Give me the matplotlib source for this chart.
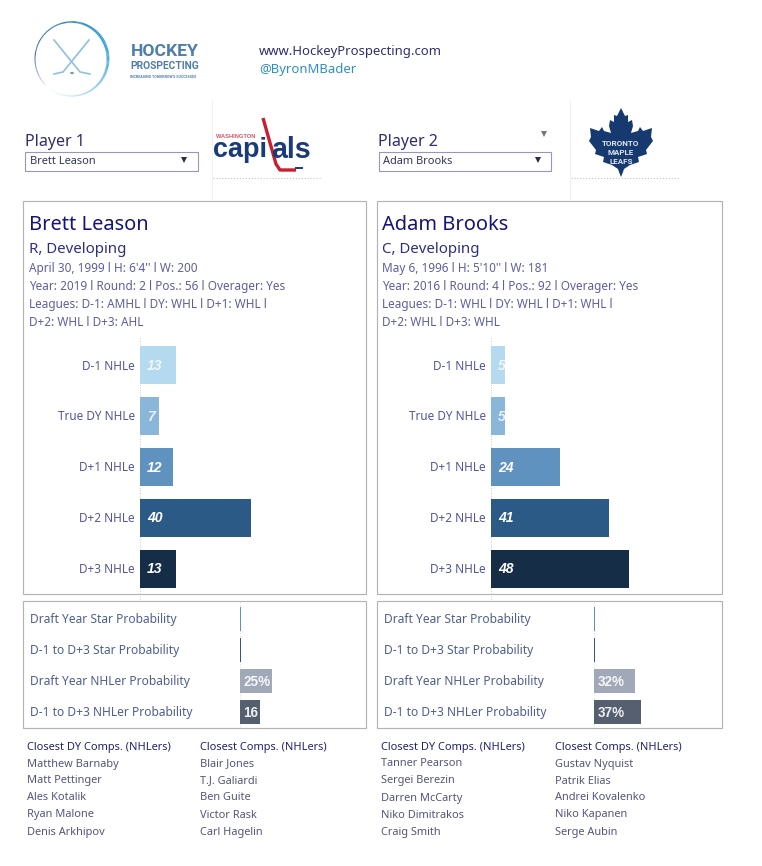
# Player comparison dashboard
import numpy as np
import matplotlib
matplotlib.use('Agg')
import matplotlib.pyplot as plt
from matplotlib.patches import Rectangle, Polygon, Ellipse
from matplotlib.collections import LineCollection

plt.rcParams['font.family'] = ['Noto Sans', 'DejaVu Sans']

W, H = 762, 866

# Data
nhle_labels = ['D-1 NHLe', 'True DY NHLe', 'D+1 NHLe', 'D+2 NHLe', 'D+3 NHLe']
nhle_p1 = [13, 7, 12, 40, 13]
nhle_p2 = [5, 5, 24, 41, 48]

prob_labels = ['Draft Year Star Probability', 'D-1 to D+3 Star Probability',
               'Draft Year NHLer Probability', 'D-1 to D+3 NHLer Probability']
prob_p1 = [0.6, 0.6, 25, 16]
prob_p2 = [0.6, 0.6, 32, 37]
prob_text_p1 = ['', '', '25%', '16']
prob_text_p2 = ['', '', '32%', '37%']

info_p1 = ['R, Developing', "April 30, 1999 l H: 6'4'' l W: 200",
           'Year: 2019 l Round: 2 l Pos.: 56 l Overager: Yes',
           'Leagues: D-1: AMHL l DY: WHL l D+1: WHL l', 'D+2: WHL l D+3: AHL']
info_p2 = ['C, Developing', "May 6, 1996 l H: 5'10'' l W: 181",
           'Year: 2016 l Round: 4 l Pos.: 92 l Overager: Yes',
           'Leagues: D-1: WHL l DY: WHL l D+1: WHL l', 'D+2: WHL l D+3: WHL']

comps_dy_p1 = ['Matthew Barnaby', 'Matt Pettinger', 'Ales Kotalik', 'Ryan Malone', 'Denis Arkhipov']
comps_p1 = ['Blair Jones', 'T.J. Galiardi', 'Ben Guite', 'Victor Rask', 'Carl Hagelin']
comps_dy_p2 = ['Tanner Pearson', 'Sergei Berezin', 'Darren McCarty', 'Niko Dimitrakos', 'Craig Smith']
comps_p2 = ['Gustav Nyquist', 'Patrik Elias', 'Andrei Kovalenko', 'Niko Kapanen', 'Serge Aubin']

nhle_colors = ['#b5d9ee', '#8ab6da', '#5f92bf', '#2b5a87', '#152d47']
prob_colors = ['#5f92bf', '#2b5a87', '#a1a9b8', '#555f70']


def px(size):
    # font size given in pixels
    return size * 0.72


fig = plt.figure(figsize=(W / 100, H / 100), dpi=100, facecolor='white')

# overlay in pixel coordinates for the text and the boxes
bg = fig.add_axes([0, 0, 1, 1])
bg.set_xlim(0, W)
bg.set_ylim(H, 0)
bg.axis('off')


def label(x, y, s, size, color, **kw):
    # Noto Sans sits a little high with va center
    return bg.text(x, y + 1.5, s, fontsize=px(size), color=color, va='center', **kw)


def sub_axes(x0, y0, x1, y1):
    ax = fig.add_axes([x0 / W, 1 - y1 / H, (x1 - x0) / W, (y1 - y0) / H])
    ax.patch.set_alpha(0)
    ax.axis('off')
    return ax


def draw_player(name, info, nhle, probs, prob_text, dy, cl, left, right, text_x, base,
                pb, scale, comp_x1, comp_x2):
    bg.add_patch(Rectangle((left, 201), right - left, 393, fc='none', ec='#b3b3b3', lw=0.85))
    bg.add_patch(Rectangle((left, 601), right - left, 127, fc='none', ec='#b3b3b3', lw=0.85))

    label(text_x, 223, name, 20, '#14147a')
    label(text_x, 248, info[0], 15, '#2e2e80')
    for line, y in zip(info[1:], [267, 285, 303, 321]):
        label(text_x, y, line, 11.8, '#5f5f9e')

    # NHLe bars
    ax = sub_axes(base, 340, base + 200, 594)
    ax.barh(range(5), nhle, height=0.75, color=nhle_colors)
    ax.set_xlim(0, 200 / scale)
    ax.set_ylim(4.5, -0.5)
    for i, v in enumerate(nhle):
        ax.annotate(str(v), (0, i), xytext=(5, -0.5), textcoords='offset points', color='white',
                    va='center', fontsize=px(14), fontweight='bold', fontstyle='italic',
                    family='Liberation Sans', alpha=0.8 if i < 2 else 1)
        label(base - 5, 364.5 + i * 50.8, nhle_labels[i], 11.8, '#55589a', ha='right')
    bg.plot([base, base], [338, 600], color='#c8c8c8', lw=0.7, ls=':')

    # probability bars
    bg.plot([pb, pb], [602, 728], color='#dddddd', lw=0.7, ls=':')
    ax = sub_axes(pb, 603, pb + 125, 728)
    ax.barh(range(4), probs, height=0.77, color=prob_colors)
    ax.set_xlim(0, 125 / 1.28)
    ax.set_ylim(3.5, -0.5)
    for i, t in enumerate(prob_text):
        ax.annotate(t, (0, i), xytext=(2.5, -0.5), textcoords='offset points', color='white',
                    va='center', fontsize=px(13.5), fontweight='bold', family='Liberation Sans',
                    alpha=0.9)
        label(text_x + 1.5, 617.6 + i * 31.25, prob_labels[i], 12, '#4f5f8f')

    # comps lists
    label(comp_x1, 746, 'Closest DY Comps. (NHLers)', 11, '#22226e')
    label(comp_x2, 746, 'Closest Comps. (NHLers)', 11, '#22226e')
    ys = [762.5, 779.5, 796.5, 813.5, 830.5]
    for a, b, y in zip(dy, cl, ys):
        label(comp_x1, y, a, 11, '#55557a')
        label(comp_x2, y, b, 11, '#55557a')


draw_player('Brett Leason', info_p1, nhle_p1, prob_p1, prob_text_p1, comps_dy_p1, comps_p1,
            23, 365.5, 29, 140, 240, 2.78, 27, 200)
draw_player('Adam Brooks', info_p2, nhle_p2, prob_p2, prob_text_p2, comps_dy_p2, comps_p2,
            377, 721.5, 382, 491, 594, 2.87, 381, 555)

# dropdowns
for name, player, x0 in [('Player 1', 'Brett Leason', 25), ('Player 2', 'Adam Brooks', 378.5)]:
    label(x0, 140, name, 16, '#2e2e6e')
    bg.add_patch(Rectangle((x0, 152), 172.5, 19, fc='white', ec='#9a95bb', lw=0.8))
    label(x0 + 4.5, 160.5, player, 11, '#33335a')
    bg.plot([x0 + 159], [160], marker='v', ms=3.8, color='#2a2a4a', mew=0)
bg.plot([544], [134], marker='v', ms=3.8, color='#777777', mew=0)

# separators around the team logos
for x0, x1 in [(213, 322), (571, 679)]:
    bg.plot([x0, x1], [178, 178], color='#c4c4c4', lw=0.8, ls=':')
    bg.plot([x0 - 1, x0 - 1], [100, 199], color='#f1f1f1', lw=0.8)

# site header
label(259, 49.5, 'www.HockeyProspecting.com', 13.1, '#2e2e6e')
label(259, 68.5, '@ByronMBader', 13.1, '#2f8fc4')

# hockey prospecting logo: ring fading round the circle
t = np.linspace(np.radians(-225), np.radians(125), 200)
rx = 71.5 + 36.5 * np.cos(t)
ry = 59 + 37 * np.sin(t)
segs = [[(rx[i], ry[i]), (rx[i + 1], ry[i + 1])] for i in range(199)]
ring_colors = []
ring_widths = []
for i in range(199):
    f = i / 198
    if f < 0.55:
        c = np.array([0.20, 0.27, 0.55]) * (1 - f / 0.55) + np.array([0.11, 0.60, 0.84]) * f / 0.55
        a = min(1.0, 0.12 + f * 6)
    else:
        c = np.array([0.11, 0.60, 0.84])
        a = max(0.06, 1.0 - (f - 0.55) * 2.2)
    ring_colors.append((c[0], c[1], c[2], a))
    ring_widths.append(0.7 + 1.4 * np.exp(-((f - 0.6) / 0.2) ** 2))
bg.add_collection(LineCollection(segs, colors=ring_colors, linewidths=ring_widths))
bg.plot([54, 80, 90], [40, 72, 74], color='#8fc0dc', lw=1.2)
bg.plot([89, 63, 54], [40, 72, 74], color='#8fc0dc', lw=1.2)
bg.add_patch(Ellipse((72, 73), 4, 2.2, fc='#6f9dbe', ec='none'))

bg.text(130.5, 51, 'HOCKEY', fontsize=px(17.5), color='#4f7eaa', va='center', fontweight='bold',
        family='Roboto')
bg.text(130.5, 66, 'PROSPECTING', fontsize=px(10.3), color='#4f7eaa', va='center', fontweight='bold',
        family='Roboto')
bg.text(130.5, 77.5, "INCREASING TOMORROW'S SUCCESSES", fontsize=px(3.6), color='#4f7eaa', va='center',
        fontweight='bold', family='Roboto')

# capitals logo
bg.text(213, 150, 'capi', fontsize=px(27), color='#1b3a7a', va='center', fontweight='bold',
        family='Liberation Sans')
bg.text(271, 150, 'als', fontsize=px(28.5), color='#1b3a7a', va='center', fontweight='bold',
        family='Liberation Sans')
bg.text(216, 136, 'WASHINGTON', fontsize=px(5.8), color='#cf5a6a', va='center', fontweight='bold',
        family='Liberation Sans')
bg.plot([263, 276, 280, 296], [118, 164, 170, 170], color='#c8202f', lw=2.4, solid_capstyle='butt')
bg.plot([296, 302], [168, 168], color='#1b3a7a', lw=1.4)

# leafs logo
half = [(0, 108), (4, 116), (7, 115), (7, 122), (11, 120), (12, 126), (10, 133), (17, 131), (19, 127),
        (22, 131), (31, 128), (30, 137), (32, 141), (25, 150), (26, 154), (17, 157), (18, 162),
        (9, 165), (3, 169), (2, 172), (0, 177)]
leaf = [(621 + x, y) for x, y in half] + [(621 - x, y) for x, y in half[::-1]]
bg.add_patch(Polygon(leaf, closed=True, fc='#163a70', ec='none'))
for word, y, s in [('TORONTO', 144, 8), ('MAPLE', 152.5, 8), ('LEAFS', 161, 8)]:
    bg.text(621, y, word, fontsize=px(s), color='#dfe6f0', ha='center', va='center', fontweight='bold',
            family='Roboto')

fig.savefig('out.png', dpi=100)
